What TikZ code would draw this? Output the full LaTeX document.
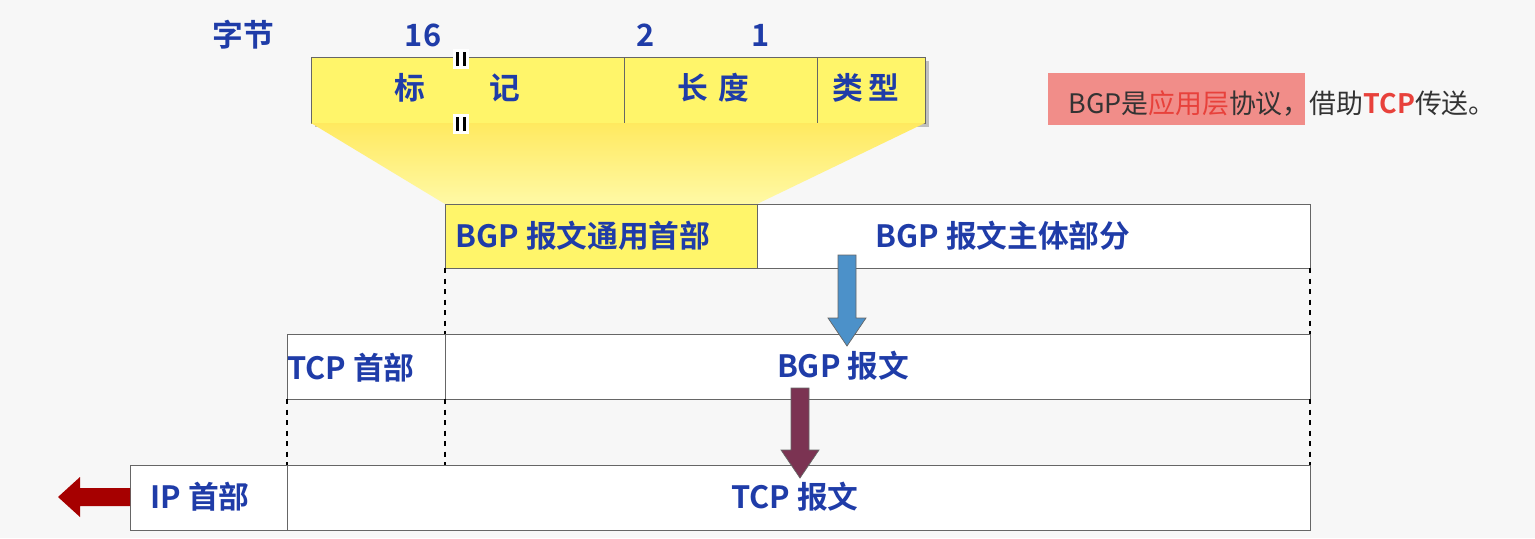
\documentclass[tikz,border=0pt]{standalone}
\usepackage{fontspec}
\setmainfont{Noto Sans CJK SC}
\newfontfamily\cjkb{Noto Sans CJK SC Bold}
\usetikzlibrary{arrows.meta}
\definecolor{tblue}{HTML}{1F3CA8}
\definecolor{yel}{HTML}{FFF56A}
\definecolor{ared}{HTML}{E8413B}
\definecolor{plum}{HTML}{7B3352}
\tikzset{
  lab/.style={font=\cjkb\fontsize{17.5}{19}\selectfont, text=tblue, inner sep=0pt},
  fbox/.style={draw=black!60, line width=0.6pt},
  dsh/.style={dashed, line width=0.7pt},
}
\begin{document}
\begin{tikzpicture}[x=0.02cm,y=-0.02cm]
\useasboundingbox (0,0) rectangle (1535,538);
\fill[black!3] (0,0) rectangle (1535,538);
% top header
\fill[black!25] (315,61) rectangle (929,127);
\node[fbox, fill=yel, minimum width=614*0.02cm, minimum height=66*0.02cm, inner sep=0, anchor=north west] (hdr) at (311,57) {};
\draw[black!60] (624,57) -- (624,123) (817,57) -- (817,123);
\node[lab] (b1) at (410,88) {标};
\node[lab] (b2) at (505,88) {记};
\node[lab] (b3) at (713,88) {长\,\,度};
\node[lab] (b4) at (866,88) {类\,型};
\node[lab] (zj) at (243,35) {字节};
\node[lab] (n16) at (423,35) {16};
\node[lab] (n2) at (646,35) {2};
\node[lab] (n1) at (761,35) {1};
% trapezoid
\shade[top color=yel!90!orange, bottom color=yel!60] (311,123) -- (925,123) -- (757,204) -- (445,204) -- cycle;
\foreach \yy in {59,124}{
  \fill[white] (453,\yy-10) rectangle (469,\yy+10);
  \draw[line width=1.5pt] (457.5,\yy-7) -- (457.5,\yy+7) (464.5,\yy-7) -- (464.5,\yy+7);}
% BGP row
\node[fbox, fill=white, minimum width=865*0.02cm, minimum height=64*0.02cm, inner sep=0, anchor=north west] (bgp) at (445,204) {};
\fill[yel] (445.5,204.5) rectangle (757,267.5);
\draw[black!60] (757,204) -- (757,268);
\node[lab] (t1) at (583,236) {BGP 报文通用首部};
\node[lab] (t2) at (1003,236) {BGP 报文主体部分};
\draw[dsh] (445,268) -- (445,334) (1310,268) -- (1310,334);
% TCP row
\node[fbox, fill=white, minimum width=1023*0.02cm, minimum height=65*0.02cm, inner sep=0, anchor=north west] (tcp) at (287,334) {};
\draw[black!60] (445,334) -- (445,399);
\node[lab] (t3) at (351,368) {TCP 首部};
\node[lab] (t4) at (843,366) {BGP 报文};
\draw[dsh] (287,399) -- (287,465) (445,399) -- (445,465) (1310,399) -- (1310,465);
% IP row
\node[fbox, fill=white, minimum width=1180*0.02cm, minimum height=65*0.02cm, inner sep=0, anchor=north west] (ip) at (130,465) {};
\draw[black!60] (287,465) -- (287,530);
\node[lab] (t5) at (200,497) {IP 首部};
\node[lab] (t6) at (795,497) {TCP 报文};
% arrows
\fill[draw=black!60, fill=blue!45!cyan!70!black!70] (838,255) -- (856,255) -- (856,318) -- (866,318) -- (847,346) -- (828,318) -- (838,318) -- cycle;
\fill[draw=black!60, fill=plum] (791,388) -- (809,388) -- (809,450) -- (819,450) -- (800,478) -- (781,450) -- (791,450) -- cycle;
\fill[red!65!black] (130,488) -- (80,488) -- (80,477) -- (58,497) -- (80,517) -- (80,506) -- (130,506) -- cycle;
% note
\fill[ared!60] (1048,73) rectangle (1305,125);
\node[anchor=west, inner sep=0, font=\fontsize{15.3}{17}\selectfont, text=black!80] (note) at (1068,104)
 {BGP是\textcolor{ared}{应用层}协议，借助{\cjkb\textcolor{ared}{TCP}}传送。};
\end{tikzpicture}
\end{document}
